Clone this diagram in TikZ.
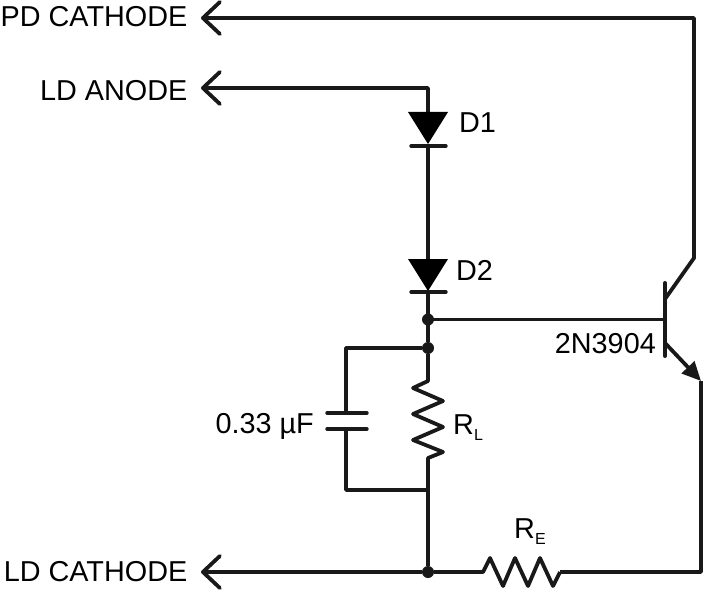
\documentclass[tikz,border=0pt]{standalone}
\usepackage{fontspec}
\setmainfont{Liberation Sans}
\usetikzlibrary{arrows.meta}
\tikzset{
  wire/.style={line width=3.8pt, line join=round, color=black!90},
  port/.style={wire, -{Straight Barb[length=17pt,width=32pt,line width=3.8pt,round]}},
  txt/.style={inner sep=0pt, anchor=base west, font=\fontsize{28.8}{30}\selectfont},
  rtxt/.style={txt, anchor=base east},
  dot/.style={circle, fill=black!90, inner sep=0pt, minimum size=12pt},
  plate/.style={line width=3.4pt, line cap=round, color=black!90}
}
\newcommand{\subl}[1]{\raisebox{-0.45ex}{\fontsize{16}{17}\selectfont #1}}
\begin{document}
\begin{tikzpicture}[x=1pt,y=-1pt]
  \useasboundingbox (0,0) rectangle (704,591);
  % terminals
  \node[rtxt] (pd) at (187.5,27) {PD CATHODE};
  \node[rtxt] (anode) at (187.5,101) {LD ANODE};
  \node[rtxt] (cathode) at (187.5,581) {LD CATHODE};
  \coordinate (pdend) at (201,18);
  \coordinate (anodeend) at (201,88);
  \coordinate (cathodeend) at (201,572);
  % junctions
  \node[dot] (base) at (428,319.5) {};
  \node[dot] (top) at (428,348) {};
  \node[dot] (bot) at (428,572) {};
  \coordinate (capbot) at (428,490);
  \coordinate (d1in) at (428,112);
  \coordinate (d1out) at (428,146);
  \coordinate (d2in) at (428,259);
  \coordinate (d2out) at (428,292);
  % transistor
  \coordinate (bq) at (665,319.5);
  \coordinate (cq) at (665,299);
  \coordinate (eq) at (665,343);
  \coordinate (ck) at (694,258);
  \coordinate (ek) at (701,381);
  \draw[port] (cq) -- (ck) -- (694,18) -- (pdend);
  \draw[port] (d1in) -- (428,88) -- (anodeend);
  \draw[wire] (d1out) -- (d2in);
  \draw[wire] (d2out) -- (top);
  \draw[wire] (base) -- (bq);
  \draw[line width=4pt, line cap=round, color=black!90] (665,283) -- (665,356);
  \draw[wire, -{Triangle[length=19pt,width=17pt]}] (eq) -- (ek);
  \draw[wire] (ek) -- (701,572) -- (560,572);
  % diodes
  \fill (408,112) -- (448,112) -- (428,144) -- cycle;
  \fill (408,259) -- (448,259) -- (428,291) -- cycle;
  \draw[plate] (411,146) -- (446,146);
  \draw[plate] (411,292) -- (446,292);
  \node[txt] (d1) at (459,132) {D1};
  \node[txt] (d2) at (456,280) {D2};
  \node[rtxt] (qlabel) at (656,353) {2N3904};
  % load resistor
  \draw[wire] (top) -- (428,381) -- (413,388) -- (443,401) -- (413,414) -- (443,427) -- (413,440) -- (443,452) -- (428,458) -- (capbot) -- (bot);
  \node[txt] (rl) at (453,434) {R\subl{L}};
  % capacitor
  \draw[wire] (top) -- (346,348) -- (346,413);
  \draw[wire] (346,429) -- (346,490) -- (capbot);
  \draw[plate] (327,413) -- (367,413);
  \draw[plate] (327,429) -- (367,429);
  \node[rtxt] (clabel) at (314,433) {0.33 µF};
  % emitter resistor
  \draw[port] (bot) -- (cathodeend);
  \draw[wire] (bot) -- (483,572) -- (490,558) -- (503,586) -- (515,558) -- (528,586) -- (540,558) -- (553,586) -- (560,572);
  \node[txt] (re) at (514,538) {R\subl{E}};
\end{tikzpicture}
\end{document}
